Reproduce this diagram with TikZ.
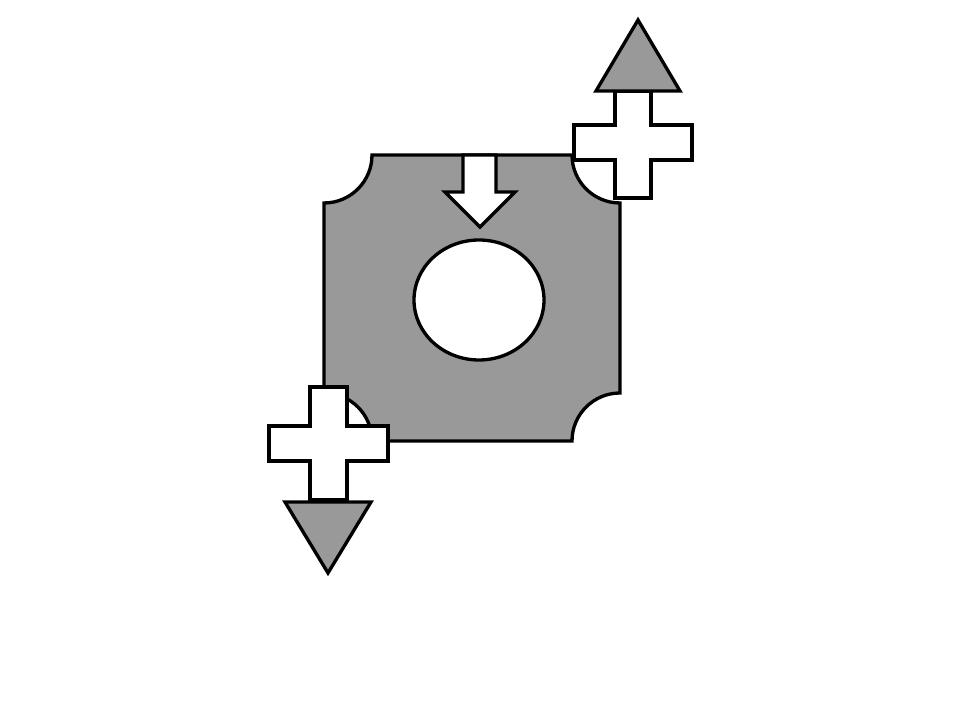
\documentclass[tikz,border=0pt]{standalone}
\usepackage[]{xcolor}
\usepackage{tikz}

\begin{document}
\begin{tikzpicture}[x=0.75pt,y=0.75pt,
% Part styles
    plate/.style={line width=2.5pt,draw=black,fill=black!40,line join=miter},
    hole/.style={line width=2.5pt,draw=black,fill=white},
    cross/.style={line width=2.5pt,draw=black,fill=white,line join=miter},
    tip/.style={line width=2.5pt,draw=black,fill=black!40,line join=miter}
    ]
\useasboundingbox (0,0) rectangle (960,720);
%% Plate with cut-out corners
   \draw[plate] (372,565) -- (572,565)
        arc[start angle=180,end angle=270,radius=48] -- (620,327)
        arc[start angle=90,end angle=180,radius=48] -- (372,279)
        arc[start angle=0,end angle=90,radius=48] -- (324,517)
        arc[start angle=270,end angle=360,radius=48] -- cycle;
%% Arrow and centre hole
   \draw[hole] (463,565) -- (463,528) -- (445,528) -- (480,493)
        -- (515,528) -- (496,528) -- (496,565) -- cycle;
   \draw[hole] (479,420) ellipse [x radius=65,y radius=60];
%% Upper right cross and tip
   \draw[cross] (615,629) -- (651,629) -- (651,595) -- (692,595)
        -- (692,560) -- (651,560) -- (651,522) -- (615,522)
        -- (615,560) -- (574,560) -- (574,595) -- (615,595) -- cycle;
   \draw[tip] (596,629) -- (680,629) -- (638,700) -- cycle;
%% Lower left cross and tip
   \draw[cross] (310,333) -- (347,333) -- (347,294) -- (388,294)
        -- (388,259) -- (347,259) -- (347,220) -- (310,220)
        -- (310,259) -- (269,259) -- (269,294) -- (310,294) -- cycle;
   \draw[tip] (285,218) -- (371,218) -- (328,147) -- cycle;
\end{tikzpicture}
\end{document}
